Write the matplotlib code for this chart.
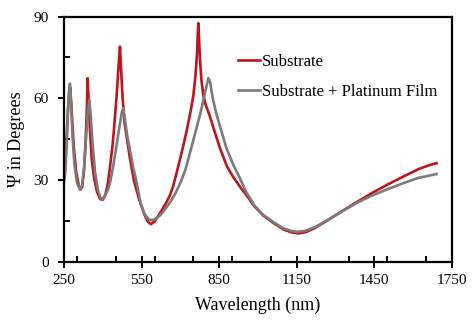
import matplotlib
matplotlib.use("Agg")
import matplotlib.pyplot as plt
from matplotlib.ticker import MultipleLocator

# Substrate (red)
wl_sub = [250, 255, 260, 265, 270, 274, 280, 288, 297, 307, 314, 320, 327, 333, 338, 341.5,
          345, 350, 357, 366, 378, 390, 400, 410, 420, 428, 438, 447, 455, 461, 466.5,
          470, 476, 484, 492, 505, 520, 540, 560, 575, 586, 600, 621, 647, 660, 672,
          685, 698, 711, 724, 738, 750, 758, 764, 769, 772, 776, 781, 788, 798, 812, 830,
          853, 880, 905, 930, 955, 985, 1020, 1060, 1100, 1130, 1156, 1185, 1220, 1270,
          1320, 1380, 1440, 1500, 1560, 1620, 1660, 1690]
psi_sub = [30.8, 36, 45, 55, 62, 64, 55, 42, 33, 28, 26.5, 27.5, 33, 43, 55, 67.4,
           60, 49, 38, 31, 25.5, 23, 22.8, 24.5, 29, 35, 43, 53, 63, 72, 79,
           72, 61, 51, 46, 38, 30, 23, 17.5, 14.6, 13.8, 14.8, 17.8, 22, 24.5, 27.8,
           32.5, 37.5, 42.5, 48, 54.5, 61, 68, 76, 87.6, 82, 74, 67, 61.5, 57.5, 54, 48.5,
           41.7, 35, 31, 27.6, 24.5, 20.5, 17, 14.2, 11.8, 10.8, 10.4, 10.9, 12.4, 15.3,
           18.3, 21.8, 25.2, 28.3, 31.2, 34, 35.4, 36.2]

# Substrate + Platinum Film (gray)
wl_pt = [250, 255, 260, 265, 270, 273, 277, 283, 290, 300, 312, 320, 328, 335, 342, 348,
         353, 360, 370, 382, 392, 400, 410, 420, 428, 440, 452, 465, 474, 479,
         486, 495, 505, 518, 531, 545, 560, 575, 589, 605, 621, 640, 660, 680, 700,
         720, 737, 755, 776, 795, 808, 815, 825, 840, 860, 878, 905, 930, 955, 985,
         1020, 1060, 1100, 1130, 1149, 1180, 1220, 1270, 1320, 1380, 1440, 1500,
         1560, 1620, 1660, 1690]
psi_pt = [28.8, 33, 42, 55, 63, 65.4, 59, 46, 36, 29, 26.5, 28, 35, 45, 55, 59.4,
          54, 44, 33, 26, 23.3, 23.1, 24.5, 26.4, 29, 35, 42, 50, 55, 56.4,
          52, 46, 41, 34.5, 29, 22, 17.8, 15.8, 15.2, 15.8, 17, 19.2, 21.8, 25, 29,
          34, 40, 46.5, 54, 62, 67.4, 66, 60, 54, 47.5, 41.7, 35.5, 30.7, 25.5, 20.8,
          17.2, 14.5, 12.2, 11.3, 11.0, 11.3, 12.7, 15.3, 18.2, 21.5, 24.3, 26.6,
          28.8, 30.8, 31.6, 32.2]

x_ticks = [250, 550, 850, 1150, 1450, 1750]
y_ticks = [0, 30, 60, 90]

plt.rcParams['font.family'] = ['Liberation Serif', 'DejaVu Serif']

fig = plt.figure(figsize=(4.74, 3.2), dpi=100)
ax = fig.add_axes([0.135, 0.182, 0.8186, 0.766])

ax.plot(wl_sub, psi_sub, color='#c0141c', lw=1.9, label='Substrate', solid_joinstyle='round')
ax.plot(wl_pt, psi_pt, color='#7b7b7b', lw=1.9, label='Substrate + Platinum Film', solid_joinstyle='round')

ax.set_xlim(250, 1750)
ax.set_ylim(0, 90)
ax.set_xticks(x_ticks)
ax.set_yticks(y_ticks)
ax.xaxis.set_minor_locator(MultipleLocator(150))
ax.yaxis.set_minor_locator(MultipleLocator(15))

for s in ax.spines.values():
    s.set_linewidth(1.6)

ax.tick_params(axis='x', which='major', direction='inout', length=8, width=1.4,
               labelsize=11, pad=5)
ax.tick_params(axis='y', which='major', direction='out', length=4, width=1.4,
               labelsize=11, pad=7)
ax.tick_params(which='minor', direction='in', length=4, width=1.4)

ax.set_xlabel('Wavelength (nm)', fontsize=13, labelpad=7)
ax.set_ylabel('Ψ in Degrees', fontsize=13, labelpad=6)

leg = ax.legend(loc='upper left', bbox_to_anchor=(0.43, 0.875), frameon=False,
                fontsize=12, handlelength=1.35, handletextpad=0.1, labelspacing=0.85,
                borderaxespad=0)

fig.savefig('out.png', dpi=100)
